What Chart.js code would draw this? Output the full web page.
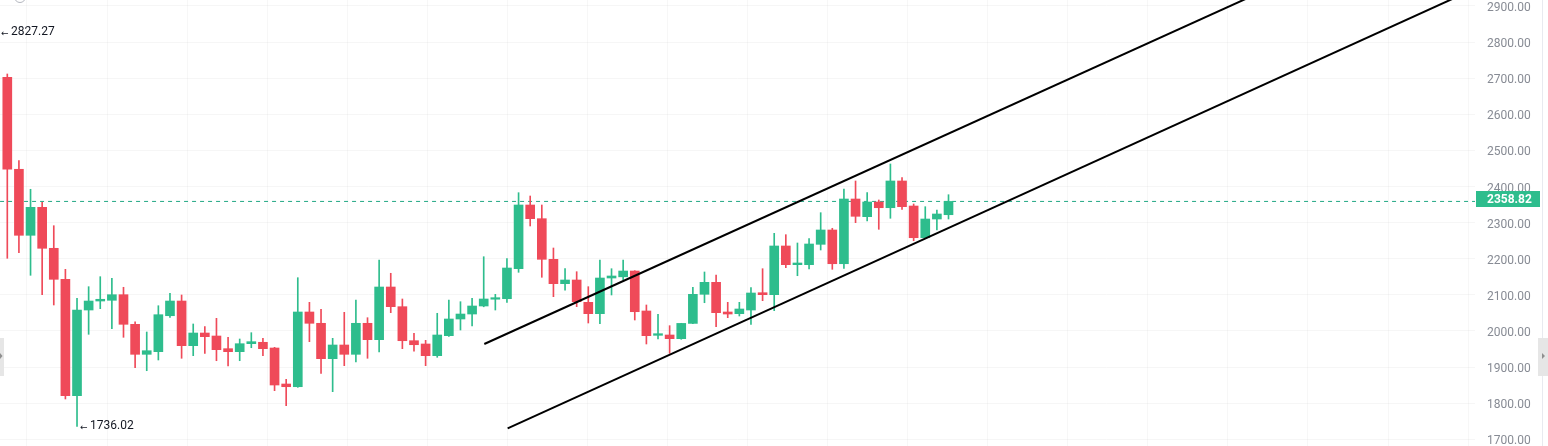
<!DOCTYPE html>
<html>
<head>
<meta charset="utf-8">
<script src="https://cdn.jsdelivr.net/npm/chart.js@4.4.1/dist/chart.umd.min.js"></script>
<style>
  html, body { margin: 0; padding: 0; background: #ffffff; overflow: hidden; }
  #wrap { position: relative; width: 1548px; height: 446px; }
</style>
</head>
<body>
<div id="wrap"><canvas id="c" width="1548" height="446"></canvas></div>
<script>
// OHLC series, one entry per session
const opens = [
  2702.5, 2447.8, 2265.0, 2342.5, 2229.0, 2143.1, 1820.8, 2058.1, 2083.0, 2085.0,
  2100.5, 2018.5, 1935.4, 1942.7, 2042.3, 2083.0, 1959.3, 1994.4, 1986.1, 1951.0,
  1942.7, 1964.8, 1968.7, 1952.9, 1853.2, 1845.7, 2052.6, 2021.3, 1923.3, 1961.2,
  1935.4, 2021.3, 1975.9, 2121.8, 2067.3, 1973.1, 1964.0, 1931.6, 1987.0, 2033.2,
  2047.0, 2069.2, 2088.0, 2089.4, 2172.5, 2348.9, 2311.0, 2198.5, 2131.0, 2141.2,
  2079.4, 2047.9, 2146.7, 2150.0, 2166.1, 2055.4, 1988.0, 1988.9, 1978.7, 2021.0,
  2101.6, 2134.8, 2052.6, 2047.9, 2058.1, 2106.0, 2100.5, 2235.4, 2183.6, 2183.6,
  2240.0, 2279.7, 2186.3, 2365.5, 2316.5, 2357.2, 2341.4, 2415.4, 2346.1, 2258.3,
  2310.1, 2322.0
];
const highs = [
  2711.7, 2471.6, 2392.4, 2356.4, 2291.6, 2170.8, 2090.5, 2122.7, 2150.4, 2145.9,
  2121.0, 2025.7, 1997.2, 2070.0, 2104.4, 2099.7, 2019.4, 2011.9, 2035.1, 1982.5,
  1977.8, 1995.3, 1979.7, 1954.8, 1866.2, 2147.6, 2079.4, 2060.1, 1979.7, 2051.7,
  2085.8, 2036.8, 2196.6, 2159.8, 2088.6, 1993.6, 1974.2, 2049.0, 2085.8, 2081.1,
  2090.5, 2205.7, 2101.6, 2200.2, 2383.0, 2373.8, 2348.9, 2229.8, 2172.5, 2164.2,
  2122.7, 2196.6, 2172.5, 2196.6, 2167.0, 2072.0, 2046.2, 2014.7, 2021.3, 2121.0,
  2163.4, 2155.0, 2079.4, 2079.4, 2119.9, 2172.5, 2270.5, 2266.7, 2243.7, 2255.6,
  2327.6, 2284.4, 2393.2, 2415.4, 2383.0, 2362.8, 2462.5, 2424.5, 2351.7, 2344.2,
  2335.0, 2377.4
];
const lows = [
  2201.3, 2216.8, 2154.2, 2100.5, 2072.0, 1811.7, 1736.02, 1990.8, 2061.8, 2006.4,
  1982.5, 1898.3, 1890.0, 1919.7, 2037.9, 1924.4, 1931.6, 1938.2, 1917.7, 1903.0,
  1917.7, 1953.7, 1931.6, 1834.7, 1793.1, 1844.0, 1970.4, 1882.8, 1831.9, 1903.9,
  1914.1, 1924.4, 1941.8, 2050.7, 1951.0, 1943.8, 1903.9, 1927.1, 1985.0, 2002.7,
  2013.8, 2067.0, 2058.1, 2079.4, 2162.5, 2290.8, 2148.7, 2095.0, 2112.7, 2067.3,
  2022.1, 2020.2, 2099.7, 2141.2, 2030.4, 1964.0, 1977.8, 1938.2, 1977.0, 2020.0,
  2078.3, 2011.9, 2036.8, 2041.5, 2018.5, 2083.9, 2056.2, 2175.3, 2153.1, 2171.7,
  2224.3, 2170.8, 2173.6, 2299.9, 2304.6, 2281.6, 2312.1, 2337.0, 2250.0, 2256.0,
  2279.7, 2310.1
];
const closes = [
  2447.8, 2265.0, 2342.5, 2229.0, 2143.1, 1820.8, 2058.1, 2083.0, 2087.8, 2100.5,
  2018.5, 1935.4, 1945.4, 2045.1, 2083.0, 1959.3, 1994.4, 1984.2, 1948.2, 1942.7,
  1964.8, 1970.4, 1951.0, 1850.4, 1845.7, 2052.6, 2021.3, 1923.3, 1961.2, 1935.4,
  2021.3, 1975.9, 2121.8, 2067.3, 1973.1, 1962.0, 1931.6, 1988.9, 2033.2, 2047.0,
  2069.2, 2088.6, 2092.2, 2174.4, 2348.9, 2311.0, 2198.5, 2131.0, 2141.2, 2081.1,
  2047.9, 2146.7, 2152.3, 2166.1, 2053.4, 1987.0, 1992.5, 1978.7, 2021.0, 2101.6,
  2134.8, 2050.7, 2047.0, 2060.9, 2105.2, 2100.5, 2235.4, 2183.6, 2188.3, 2240.9,
  2279.7, 2186.3, 2365.5, 2317.6, 2357.2, 2341.4, 2415.4, 2344.2, 2258.3, 2310.1,
  2324.0, 2358.82
];

// Price axis labels
const priceTicks = [1700, 1800, 1900, 2000, 2100, 2200, 2300, 2400, 2500, 2600, 2700, 2800, 2900];

// Reference levels
const lastPrice = 2358.82;
const rangeHigh = 2827.27;
const rangeLow = 1736.02;
const rangeLowIndex = 6;

// Rising channel (index, price) end points
const channelUpper = [{ x: 41.05, y: 1964.0 }, { x: 110.17, y: 2972.0 }];
const channelLower = [{ x: 43.06, y: 1730.5 }, { x: 127.95, y: 2972.0 }];

const UP = '#2ebd8d';
const DOWN = '#ef4a59';
const FONT = 'Roboto, "Noto Sans", "DejaVu Sans", sans-serif';

const idx = opens.map((_, i) => i);
const candleColors = idx.map(i => (closes[i] >= opens[i] ? UP : DOWN));

const overlayPlugin = {
  id: 'overlay',
  afterDraw(chart) {
    const { ctx, scales } = chart;
    const ys = scales.y, xs = scales.x;
    const area = chart.chartArea;
    ctx.save();

    // separator and scroll handles
    ctx.fillStyle = '#e8eaef';
    ctx.fillRect(1542, 0, 1, 446);
    ctx.fillStyle = '#e6e6e6';
    ctx.fillRect(1538, 338, 10, 38);
    ctx.fillRect(0, 338, 4, 38);
    ctx.fillStyle = '#8f8f8f';
    ctx.beginPath();
    ctx.moveTo(1542, 353); ctx.lineTo(1545, 356); ctx.lineTo(1542, 359); ctx.closePath(); ctx.fill();
    ctx.beginPath();
    ctx.moveTo(0, 353); ctx.lineTo(2.5, 356); ctx.lineTo(0, 359); ctx.closePath(); ctx.fill();

    // partially visible toolbar button
    ctx.strokeStyle = '#b4b7bf';
    ctx.lineWidth = 1;
    ctx.beginPath();
    ctx.arc(20, -3, 5.5, 0, Math.PI);
    ctx.stroke();

    // last price tag
    const py = ys.getPixelForValue(lastPrice);
    ctx.fillStyle = UP;
    ctx.fillRect(area.right + 1, Math.round(py) - 10, 64, 16);
    ctx.fillStyle = '#ffffff';
    ctx.font = 'bold 12px ' + FONT;
    ctx.textAlign = 'left';
    ctx.textBaseline = 'middle';
    ctx.fillText(lastPrice.toFixed(2), area.right + 12, Math.round(py) - 1.5);

    // range high / low markers
    ctx.fillStyle = '#131722';
    const drawMark = (x, y, text) => {
      ctx.font = '9px ' + FONT;
      ctx.fillText('\u2190', x, y + 1);
      ctx.font = '12px ' + FONT;
      ctx.fillText(text, x + 10, y);
    };
    drawMark(1, ys.getPixelForValue(rangeHigh), rangeHigh.toFixed(2));
    drawMark(xs.getPixelForValue(rangeLowIndex) + 3, ys.getPixelForValue(rangeLow), rangeLow.toFixed(2));

    ctx.restore();
  }
};

new Chart(document.getElementById('c'), {
  type: 'bar',
  data: {
    datasets: [
      {
        label: 'channel-upper',
        type: 'line',
        data: channelUpper,
        borderColor: '#000000',
        borderWidth: 2,
        pointRadius: 0,
        fill: false,
        order: 0
      },
      {
        label: 'channel-lower',
        type: 'line',
        data: channelLower,
        borderColor: '#000000',
        borderWidth: 2,
        pointRadius: 0,
        fill: false,
        order: 0
      },
      {
        label: 'body',
        data: idx.map(i => ({ x: i, y: [opens[i], closes[i]] })),
        backgroundColor: candleColors,
        borderWidth: 0,
        barThickness: 9,
        grouped: false,
        order: 1
      },
      {
        label: 'wick',
        data: idx.map(i => ({ x: i, y: [lows[i], highs[i]] })),
        backgroundColor: candleColors,
        borderWidth: 0,
        barThickness: 1,
        grouped: false,
        order: 2
      },
      {
        label: 'last',
        type: 'line',
        data: [{ x: -2, y: lastPrice }, { x: 140, y: lastPrice }],
        borderColor: '#22a884',
        borderWidth: 1,
        borderDash: [4, 4],
        pointRadius: 0,
        fill: false,
        order: 3
      }
    ]
  },
  options: {
    responsive: false,
    animation: false,
    devicePixelRatio: 1,
    layout: { padding: 0 },
    plugins: {
      legend: { display: false },
      tooltip: { enabled: false }
    },
    scales: {
      x: {
        type: 'linear',
        min: -0.628,
        max: 126.31,
        offset: false,
        border: { display: false },
        grid: { color: 'rgba(0,0,0,0.03)', drawTicks: false },
        ticks: { display: false },
        afterBuildTicks(s) {
          const t = [];
          for (let v = 5.14; v < 126; v += 6.89) t.push({ value: v });
          s.ticks = t;
        },
        afterFit(s) {
          s.height = 0;
          s.paddingLeft = 0; s.paddingRight = 0;
        }
      },
      y: {
        type: 'linear',
        position: 'right',
        min: 1681.5,
        max: 2916.6,
        border: { display: false },
        grid: { color: 'rgba(0,0,0,0.035)', drawTicks: false },
        ticks: {
          color: '#878b94',
          padding: 12,
          labelOffset: 2,
          font: { family: FONT, size: 12 },
          callback: v => Number(v).toFixed(2)
        },
        afterBuildTicks(s) {
          s.ticks = priceTicks.map(v => ({ value: v }));
        },
        afterFit(s) {
          s.width = 73;
          s.paddingTop = 0; s.paddingBottom = 0;
        }
      }
    }
  },
  plugins: [overlayPlugin]
});
</script>
</body>
</html>
